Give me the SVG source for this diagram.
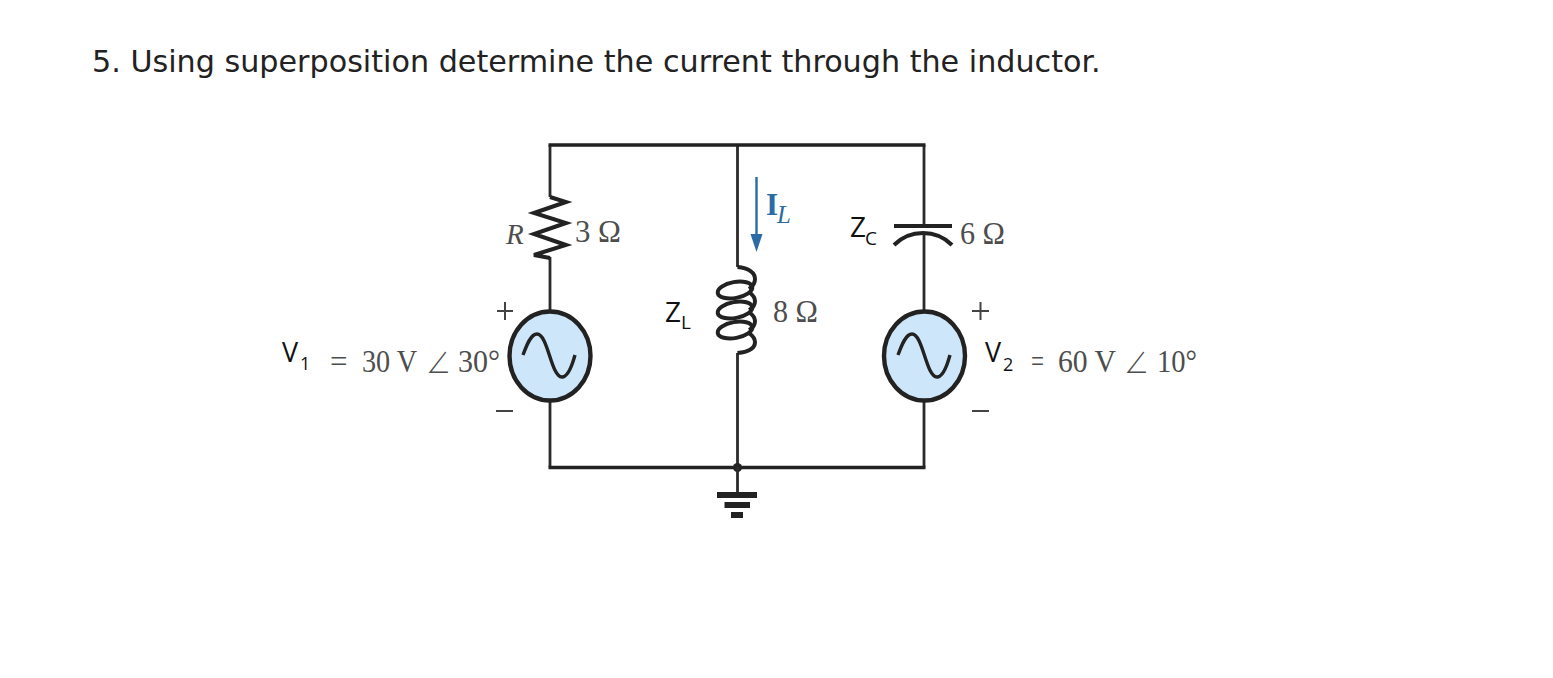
<svg xmlns="http://www.w3.org/2000/svg" width="1553" height="678" viewBox="0 0 1553 678">
<style>
.w{fill:none;stroke:#2b2b2b;stroke-width:2.8}
.h{fill:none;stroke:#222;stroke-width:3.6}
.c{fill:none;stroke:#222;stroke-width:4}
.src{fill:#cde6f9;stroke:#222;stroke-width:4.4}
.t{font-family:"Liberation Serif",serif;font-size:31px;fill:#4d4d4d}
.a{font-family:"Noto Sans CJK SC",sans-serif;font-weight:300;font-size:31px;fill:#4d4d4d}
.s{font-family:"Open Sans","Noto Sans",sans-serif;fill:#111}
.p{stroke:#444;stroke-width:2;fill:none}
.b{font-family:"Liberation Serif",serif;fill:#2a6aa5}
</style>
<rect width="1553" height="678" fill="#fff"/>
<text x="92" y="72" style="font-family:'DejaVu Sans',sans-serif;font-size:30.2px;fill:#222">5. Using superposition determine the current through the inductor.</text>
<g id="connectors">
<path class="w" d="M550 197V145M924 145V226M924 233V312M737.500 145V267M550 257V312M550 400V467M737.500 353V467M924 400V467"/>
<path class="h" d="M548.500 145H925.500M548.500 467.500H925.500"/>
</g>
<g id="R">
<path class="c" d="M550 197L566 202L534 213L566 223L534 234L566 245L534 255L550 258"/>
<text class="t" x="506" y="244" style="font-style:italic;font-size:29px">R</text>
<text class="t" x="575" y="242" textLength="46" lengthAdjust="spacingAndGlyphs">3 Ω</text>
</g>
<g id="V1">
<ellipse class="src" cx="550" cy="356" rx="40.500" ry="44.500"/>
<path d="M523 355C527 344 531 334 537 334C548 334 551 377 562 377C568 377 572 366 575 355" class="c" style="stroke-width:3.400"/>
<path class="p" d="M497 311H513M505 302V320M496 411H513"/>
<text class="s" x="282" y="362" font-size="27">V</text>
<text class="s" x="300" y="370" font-size="18">1</text>
<text class="t" x="330" y="372">=</text>
<text class="t" x="362" y="372" textLength="55" lengthAdjust="spacingAndGlyphs">30 V</text>
<text class="a" x="426" y="373" textLength="25" lengthAdjust="spacingAndGlyphs">∠</text>
<text class="t" x="458" y="372" textLength="42" lengthAdjust="spacingAndGlyphs">30°</text>
</g>
<g id="ZL">
<path class="c" d="M737.500 267C749 268 755 273 755 279C755 284 752 287 749 289"/>
<ellipse class="c" cx="735" cy="290" rx="17.500" ry="8" transform="rotate(-10 735 290)"/>
<path class="c" d="M749 292C753 295 755 298 755 301C755 305 753 308 749 310"/>
<ellipse class="c" cx="735" cy="310" rx="17.500" ry="8" transform="rotate(-10 735 310)"/>
<path class="c" d="M749 312C753 315 755 318 755 321C755 325 753 328 749 330"/>
<ellipse class="c" cx="735" cy="330" rx="17.500" ry="8" transform="rotate(-10 735 330)"/>
<path class="c" d="M749 333C753 336 755 339 755 342C755 349 748 352 737.500 353"/>
<text class="s" x="665" y="322" font-size="28">Z</text>
<text class="s" x="681" y="329" font-size="19">L</text>
<text class="t" x="773" y="322" textLength="45" lengthAdjust="spacingAndGlyphs">8 Ω</text>
</g>
<g id="IL">
<path d="M756.500 177V238" stroke="#2a6aa5" stroke-width="2.400" fill="none"/>
<path d="M750.500 234H762.500L756.500 252Z" fill="#2a6aa5"/>
<text class="b" x="766" y="215" font-size="31" font-weight="bold">I</text>
<text class="b" x="777" y="223" font-size="25" font-style="italic">L</text>
</g>
<g id="ZC">
<path d="M894 226H952" class="c"/>
<path d="M894 245C910 229 936 229 952 245" class="c"/>
<text class="s" x="850" y="237" font-size="28">Z</text>
<text class="s" x="865" y="245" font-size="19">C</text>
<text class="t" x="960" y="244" textLength="45" lengthAdjust="spacingAndGlyphs">6 Ω</text>
</g>
<g id="V2">
<ellipse class="src" cx="924.500" cy="356" rx="40.500" ry="44.500"/>
<path d="M898 355C902 344 906 334 912 334C923 334 926 377 937 377C943 377 947 366 950 355" class="c" style="stroke-width:3.400"/>
<path class="p" d="M972 311H989M980.500 302V320M972 411H989"/>
<text class="s" x="985" y="362" font-size="27">V</text>
<text class="s" x="1003" y="371" font-size="18">2</text>
<text class="t" x="1031" y="372" textLength="13" lengthAdjust="spacingAndGlyphs">=</text>
<text class="t" x="1058" y="372" textLength="58" lengthAdjust="spacingAndGlyphs">60 V</text>
<text class="a" x="1124" y="373" textLength="25" lengthAdjust="spacingAndGlyphs">∠</text>
<text class="t" x="1157" y="372" textLength="40" lengthAdjust="spacingAndGlyphs">10°</text>
</g>
<g id="ground">
<circle cx="737.500" cy="467.500" r="4.500" fill="#222"/>
<path class="w" d="M737.500 467V492"/>
<rect x="717" y="492" width="40" height="6" fill="#222"/>
<rect x="724.500" y="502" width="25.500" height="6" fill="#222"/>
<rect x="731" y="512" width="12" height="6" fill="#222"/>
</g>
</svg>
